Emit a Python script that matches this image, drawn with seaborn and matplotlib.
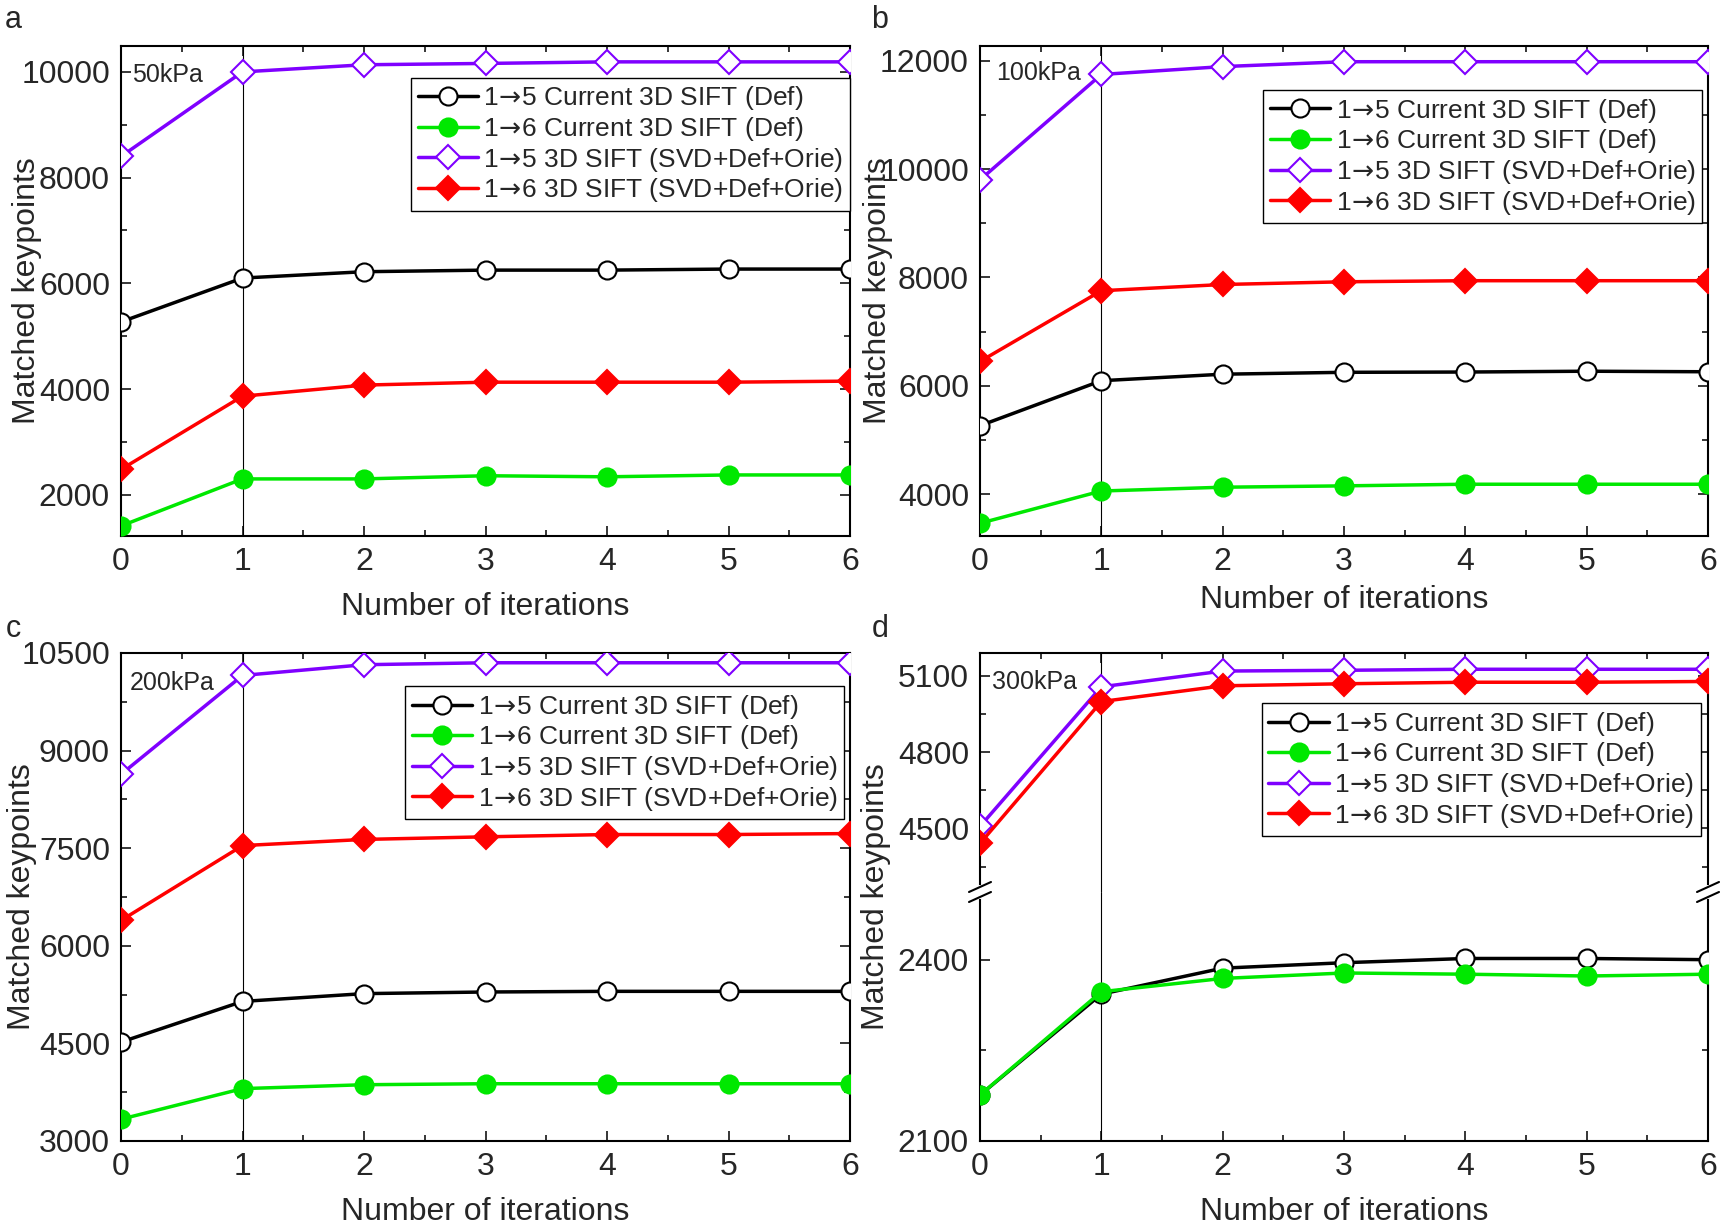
import numpy as np
import pandas as pd
import seaborn as sns
import matplotlib.pyplot as plt
from matplotlib.lines import Line2D
from matplotlib.ticker import MultipleLocator

sns.set_style('ticks')
plt.rcParams['font.family'] = ['Liberation Sans', 'DejaVu Sans']

# data
iters = [0, 1, 2, 3, 4, 5, 6]

a_black = [5270, 6100, 6220, 6250, 6250, 6270, 6270]
a_green = [1410, 2300, 2300, 2360, 2340, 2375, 2375]
a_purple = [8400, 10000, 10135, 10160, 10190, 10190, 10190]
a_red = [2480, 3865, 4075, 4130, 4130, 4130, 4150]

b_black = [5265, 6095, 6215, 6250, 6255, 6270, 6260]
b_green = [3465, 4060, 4130, 4155, 4185, 4185, 4185]
b_purple = [9800, 11745, 11890, 11980, 11980, 11980, 11980]
b_red = [6450, 7755, 7870, 7920, 7940, 7940, 7940]

c_black = [4520, 5145, 5265, 5290, 5300, 5300, 5300]
c_green = [3335, 3805, 3865, 3880, 3880, 3880, 3880]
c_purple = [8635, 10155, 10320, 10350, 10350, 10350, 10350]
c_red = [6390, 7540, 7635, 7675, 7710, 7710, 7725]

d_black = [2176, 2343, 2386, 2395, 2402, 2402, 2400]
d_green = [2176, 2347, 2369, 2378, 2376, 2373, 2376]
d_purple = [4508, 5057, 5119, 5122, 5126, 5126, 5126]
d_red = [4441, 4999, 5061, 5069, 5075, 5075, 5078]

labels = ['1$\\!\\rightarrow\\!$5 Current 3D SIFT (Def)',
          '1$\\!\\rightarrow\\!$6 Current 3D SIFT (Def)',
          '1$\\!\\rightarrow\\!$5 3D SIFT (SVD+Def+Orie)',
          '1$\\!\\rightarrow\\!$6 3D SIFT (SVD+Def+Orie)']

# colour, marker, face colour for the four series
styles = [('black', 'o', 'white'),
          ('#00E800', 'o', '#00E800'),
          ('#7F00FF', 'D', 'white'),
          ('#FF0000', 'D', '#FF0000')]

W, H = 1725, 1225
fig = plt.figure(figsize=(W / 100, H / 100), dpi=100)

TICK_FS = 23
LEG_FS = 19
KPA_FS = 18


def px_box(left, top, right, bottom):
    return [left / W, 1 - bottom / H, (right - left) / W, (bottom - top) / H]


def style_axis(ax, major, minor, top=True, bottom=True):
    ax.set_xlim(0, 6)
    ax.xaxis.set_major_locator(MultipleLocator(1))
    ax.xaxis.set_minor_locator(MultipleLocator(0.5))
    ax.yaxis.set_major_locator(MultipleLocator(major))
    ax.yaxis.set_minor_locator(MultipleLocator(minor))
    ax.tick_params(which='both', direction='in', left=True, right=True,
                   top=top, bottom=bottom, labelsize=TICK_FS, width=1.3)
    ax.tick_params(which='major', length=7, pad=8)
    ax.tick_params(which='minor', length=4)
    for s in ax.spines.values():
        s.set_linewidth(1.5)
        s.set_color('black')
    ax.axvline(1, color='black', lw=0.8, zorder=1)


def draw_series(ax, series):
    for vals, (col, mk, fc), lab in zip(series, styles, labels):
        sns.lineplot(x=iters, y=vals, ax=ax, color=col, lw=2.5, marker=mk,
                     markersize=13 if mk == 'o' else 12, markerfacecolor=fc,
                     markeredgecolor=col, markeredgewidth=1.5, label=lab,
                     zorder=3)


def add_legend(ax, anchor):
    handles = [Line2D([], [], color=col, lw=2.5, marker=mk,
                      markersize=13 if mk == 'o' else 12, markerfacecolor=fc,
                      markeredgecolor=col, markeredgewidth=1.5)
               for col, mk, fc in styles]
    leg = ax.legend(handles, labels, loc='upper right', bbox_to_anchor=anchor,
                    fontsize=LEG_FS, frameon=True, fancybox=False,
                    edgecolor='black', framealpha=1, handlelength=2.3,
                    handletextpad=0.2, labelspacing=0.1, borderpad=0.25,
                    borderaxespad=0)
    leg.get_frame().set_linewidth(1.0)


def finish(ax, ylim, kpa, kpa_pos, leg_anchor, ylab_x, xpad):
    ax.set_ylim(*ylim)
    ax.set_xlabel('Number of iterations', fontsize=TICK_FS, labelpad=xpad)
    ax.set_ylabel('Matched keypoints', fontsize=TICK_FS)
    ax.yaxis.set_label_coords(ylab_x, 0.5)
    ax.text(kpa_pos[0], kpa_pos[1], kpa, transform=ax.transAxes,
            fontsize=KPA_FS, ha='left', va='center')
    add_legend(ax, leg_anchor)


# panel a
ax_a = fig.add_axes(px_box(121, 46, 850, 536))
style_axis(ax_a, 2000, 1000)
draw_series(ax_a, [a_black, a_green, a_purple, a_red])
finish(ax_a, (1220, 10490), '50kPa', (0.015, 0.941), (1.0, 0.935), -0.108, 11)

# panel b
ax_b = fig.add_axes(px_box(980, 46, 1708, 536))
style_axis(ax_b, 2000, 1000)
draw_series(ax_b, [b_black, b_green, b_purple, b_red])
finish(ax_b, (3230, 12270), '100kPa', (0.022, 0.945), (0.992, 0.91), -0.12, 6)

# panel c
ax_c = fig.add_axes(px_box(121, 653, 850, 1141))
style_axis(ax_c, 1500, 750)
draw_series(ax_c, [c_black, c_green, c_purple, c_red])
finish(ax_c, (3000, 10500), '200kPa', (0.012, 0.939), (0.992, 0.932), -0.115, 11)

# panel d, broken y axis
BRK = 892
ax_du = fig.add_axes(px_box(980, 653, 1708, BRK))
ax_dl = fig.add_axes(px_box(980, BRK, 1708, 1141), sharex=ax_du)
style_axis(ax_du, 300, 150, top=True, bottom=False)
style_axis(ax_dl, 300, 150, top=False, bottom=True)
ax_du.spines['bottom'].set_visible(False)
ax_dl.spines['top'].set_visible(False)
ax_du.tick_params(labelbottom=False)
draw_series(ax_du, [d_black, d_green, d_purple, d_red])
draw_series(ax_dl, [d_black, d_green, d_purple, d_red])
ax_dl.get_legend().remove()
ax_du.set_ylim(4250, 5190)
ax_dl.set_ylim(2100, 2512)
ax_dl.set_xlabel('Number of iterations', fontsize=TICK_FS, labelpad=11)
ax_du.text(0.016, 0.88, '300kPa', transform=ax_du.transAxes,
           fontsize=KPA_FS, ha='left', va='center')
add_legend(ax_du, (0.99, 0.79))
fig.text((980 - 104) / W, 1 - 897 / H, 'Matched keypoints', rotation=90,
         fontsize=TICK_FS, ha='center', va='center')

# break marks on both spines
for xs in (980, 1708):
    fig.add_artist(Line2D([xs / W, xs / W], [1 - (BRK - 5) / H, 1 - (BRK + 5) / H],
                          color='white', lw=3, transform=fig.transFigure, zorder=10))
    for dy in (-5, 5):
        y0 = BRK + dy
        fig.add_artist(Line2D([(xs - 11) / W, (xs + 11) / W],
                              [1 - (y0 + 5) / H, 1 - (y0 - 5) / H],
                              color='black', lw=1.5, transform=fig.transFigure,
                              zorder=11))

# panel letters
for ch, (px, py) in zip('abcd', [(13, 20), (880, 20), (13, 629), (880, 629)]):
    fig.text(px / W, 1 - py / H, ch, fontsize=22, ha='center', va='center')

fig.savefig('out.png', dpi=100)
